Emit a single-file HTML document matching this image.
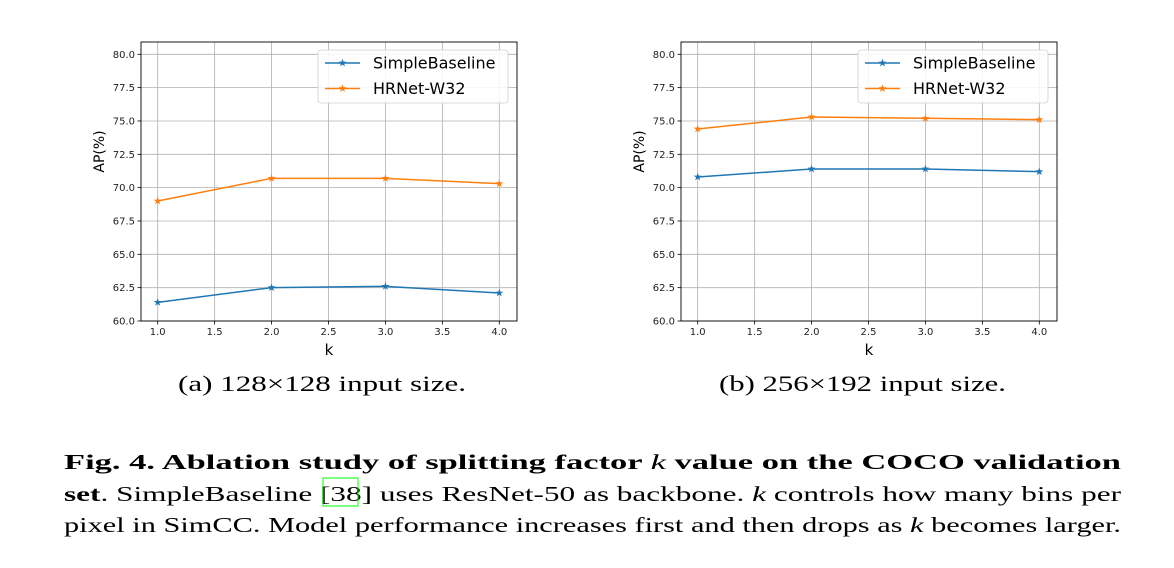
<!DOCTYPE html>
<html><head><meta charset="utf-8"><style>
html,body{margin:0;padding:0;background:#fff;}
svg{display:block;}
</style></head><body>
<svg id="fig" width="1174" height="568" xmlns="http://www.w3.org/2000/svg" font-family="'DejaVu Sans','Liberation Sans',sans-serif">
<g id="chartA"></g>
<g id="chartB"></g>
<text x="178" y="391" font-family="'Liberation Serif',serif" font-size="22" textLength="288" lengthAdjust="spacingAndGlyphs">(a) 128×128 input size.</text>
<text x="719" y="391" font-family="'Liberation Serif',serif" font-size="22" textLength="287" lengthAdjust="spacingAndGlyphs">(b) 256×192 input size.</text>
<g font-family="'Liberation Serif',serif" font-size="21">
<text x="64" y="469" textLength="1057" lengthAdjust="spacingAndGlyphs"><tspan font-weight="bold">Fig. 4. Ablation study of splitting factor </tspan><tspan font-style="italic">k</tspan><tspan font-weight="bold"> value on the COCO validation</tspan></text>
<text x="64" y="501" textLength="1057" lengthAdjust="spacingAndGlyphs"><tspan font-weight="bold">set</tspan>. SimpleBaseline [38] uses ResNet-50 as backbone. <tspan font-style="italic">k</tspan> controls how many bins per</text>
<text x="64" y="532" textLength="1057" lengthAdjust="spacingAndGlyphs">pixel in SimCC. Model performance increases first and then drops as <tspan font-style="italic">k</tspan> becomes larger.</text>
</g>
<rect x="323" y="478" width="35" height="28" fill="none" stroke="#00ff00" stroke-width="1"/>
</svg>
<script>
const kValues = [1, 2, 3, 4];
const xTicks = [1.0, 1.5, 2.0, 2.5, 3.0, 3.5, 4.0];
const yTicks = [60.0, 62.5, 65.0, 67.5, 70.0, 72.5, 75.0, 77.5, 80.0];
const seriesNames = ["SimpleBaseline", "HRNet-W32"];
const seriesColors = ["#1f77b4", "#ff7f0e"];
const aSimpleBaseline = [61.4, 62.5, 62.6, 62.1];
const aHRNet = [69.0, 70.7, 70.7, 70.3];
const bSimpleBaseline = [70.8, 71.4, 71.4, 71.2];
const bHRNet = [74.4, 75.3, 75.2, 75.1];

const NS = "http://www.w3.org/2000/svg";
function mk(tag, attrs, parent){const e=document.createElementNS(NS,tag);for(const k in attrs)e.setAttribute(k,attrs[k]);parent.appendChild(e);return e;}
function starPts(cx,cy,R){let p=[];for(let i=0;i<10;i++){const r=i%2?R*0.4:R;const a=-Math.PI/2+i*Math.PI/5;p.push((cx+r*Math.cos(a)).toFixed(2)+","+(cy+r*Math.sin(a)).toFixed(2));}return p.join(" ");}

function drawChart(g, left, series){
  const L=left, R=left+376, T=42, B=321;
  const xs = v => (L+16.7) + (v-1)*(341.6/3);
  const ys = v => 321 - (v-60)*(266.7/20);
  xTicks.forEach(t=>{
    const gl=mk('line',{x1:xs(t),x2:xs(t),y1:T,y2:B,stroke:'#b0b0b0','stroke-width':0.8},g);
    
    
    const tk=mk('line',{x1:xs(t),x2:xs(t),y1:B,y2:B+3.5,stroke:'#000','stroke-width':0.8},g);
    
    
    const lb=mk('text',{x:xs(t),y:B+14,'font-size':10,'text-anchor':'middle',fill:'#222'},g);
    lb.textContent=t.toFixed(1);
    
    
  });
  yTicks.forEach(t=>{
    const gl=mk('line',{x1:L,x2:R,y1:ys(t),y2:ys(t),stroke:'#b0b0b0','stroke-width':0.8},g);
    
    
    const tk=mk('line',{x1:L-3.5,x2:L,y1:ys(t),y2:ys(t),stroke:'#000','stroke-width':0.8},g);
    
    
    const lb=mk('text',{x:L-6,y:ys(t)+3.5,'font-size':10,'text-anchor':'end',fill:'#222'},g);
    lb.textContent=t.toFixed(1);
    
    
  });
  const frame=mk('rect',{x:L,y:T,width:R-L,height:B-T,fill:'none',stroke:'#000','stroke-width':0.9},g);
  
  
  const xt=mk('text',{x:(L+R)/2,y:355,'font-size':15,'text-anchor':'middle'},g);
  xt.textContent='k';
  
  
  const yt=mk('text',{x:0,y:0,'font-size':14,'text-anchor':'middle',transform:`translate(${L-37},${(T+B)/2-30}) rotate(-90)`},g);
  yt.textContent='AP(%)';
  
  
  series.forEach((vals,si)=>{
    const pl=mk('polyline',{points:vals.map((v,i)=>xs(kValues[i])+','+ys(v)).join(' '),fill:'none',stroke:seriesColors[si],'stroke-width':1.5},g);
    
    
    vals.forEach((v,i)=>{
      const st=mk('polygon',{points:starPts(xs(kValues[i]),ys(v),4.2),fill:seriesColors[si]},g);
      
      
    });
  });
  const lg=mk('g',{},g);
  
  
  mk('rect',{x:L+177,y:50,width:190,height:53,rx:3,fill:'#fff','fill-opacity':0.85,stroke:'#d0d0d0','stroke-width':0.8},lg);
  seriesNames.forEach((n,i)=>{
    const y=63+i*25.5;
    const ln=mk('line',{x1:L+184,x2:L+219,y1:y,y2:y,stroke:seriesColors[i],'stroke-width':1.5},lg);
    
    
    mk('polygon',{points:starPts(L+201.5,y,4.2),fill:seriesColors[i]},lg);
    const tx=mk('text',{x:L+232,y:y+5.5,'font-size':16,fill:'#000'},lg);
    tx.textContent=n;
    
    
  });
}
drawChart(document.getElementById('chartA'),141,[aSimpleBaseline,aHRNet]);
drawChart(document.getElementById('chartB'),681,[bSimpleBaseline,bHRNet]);
</script>
</body></html>
